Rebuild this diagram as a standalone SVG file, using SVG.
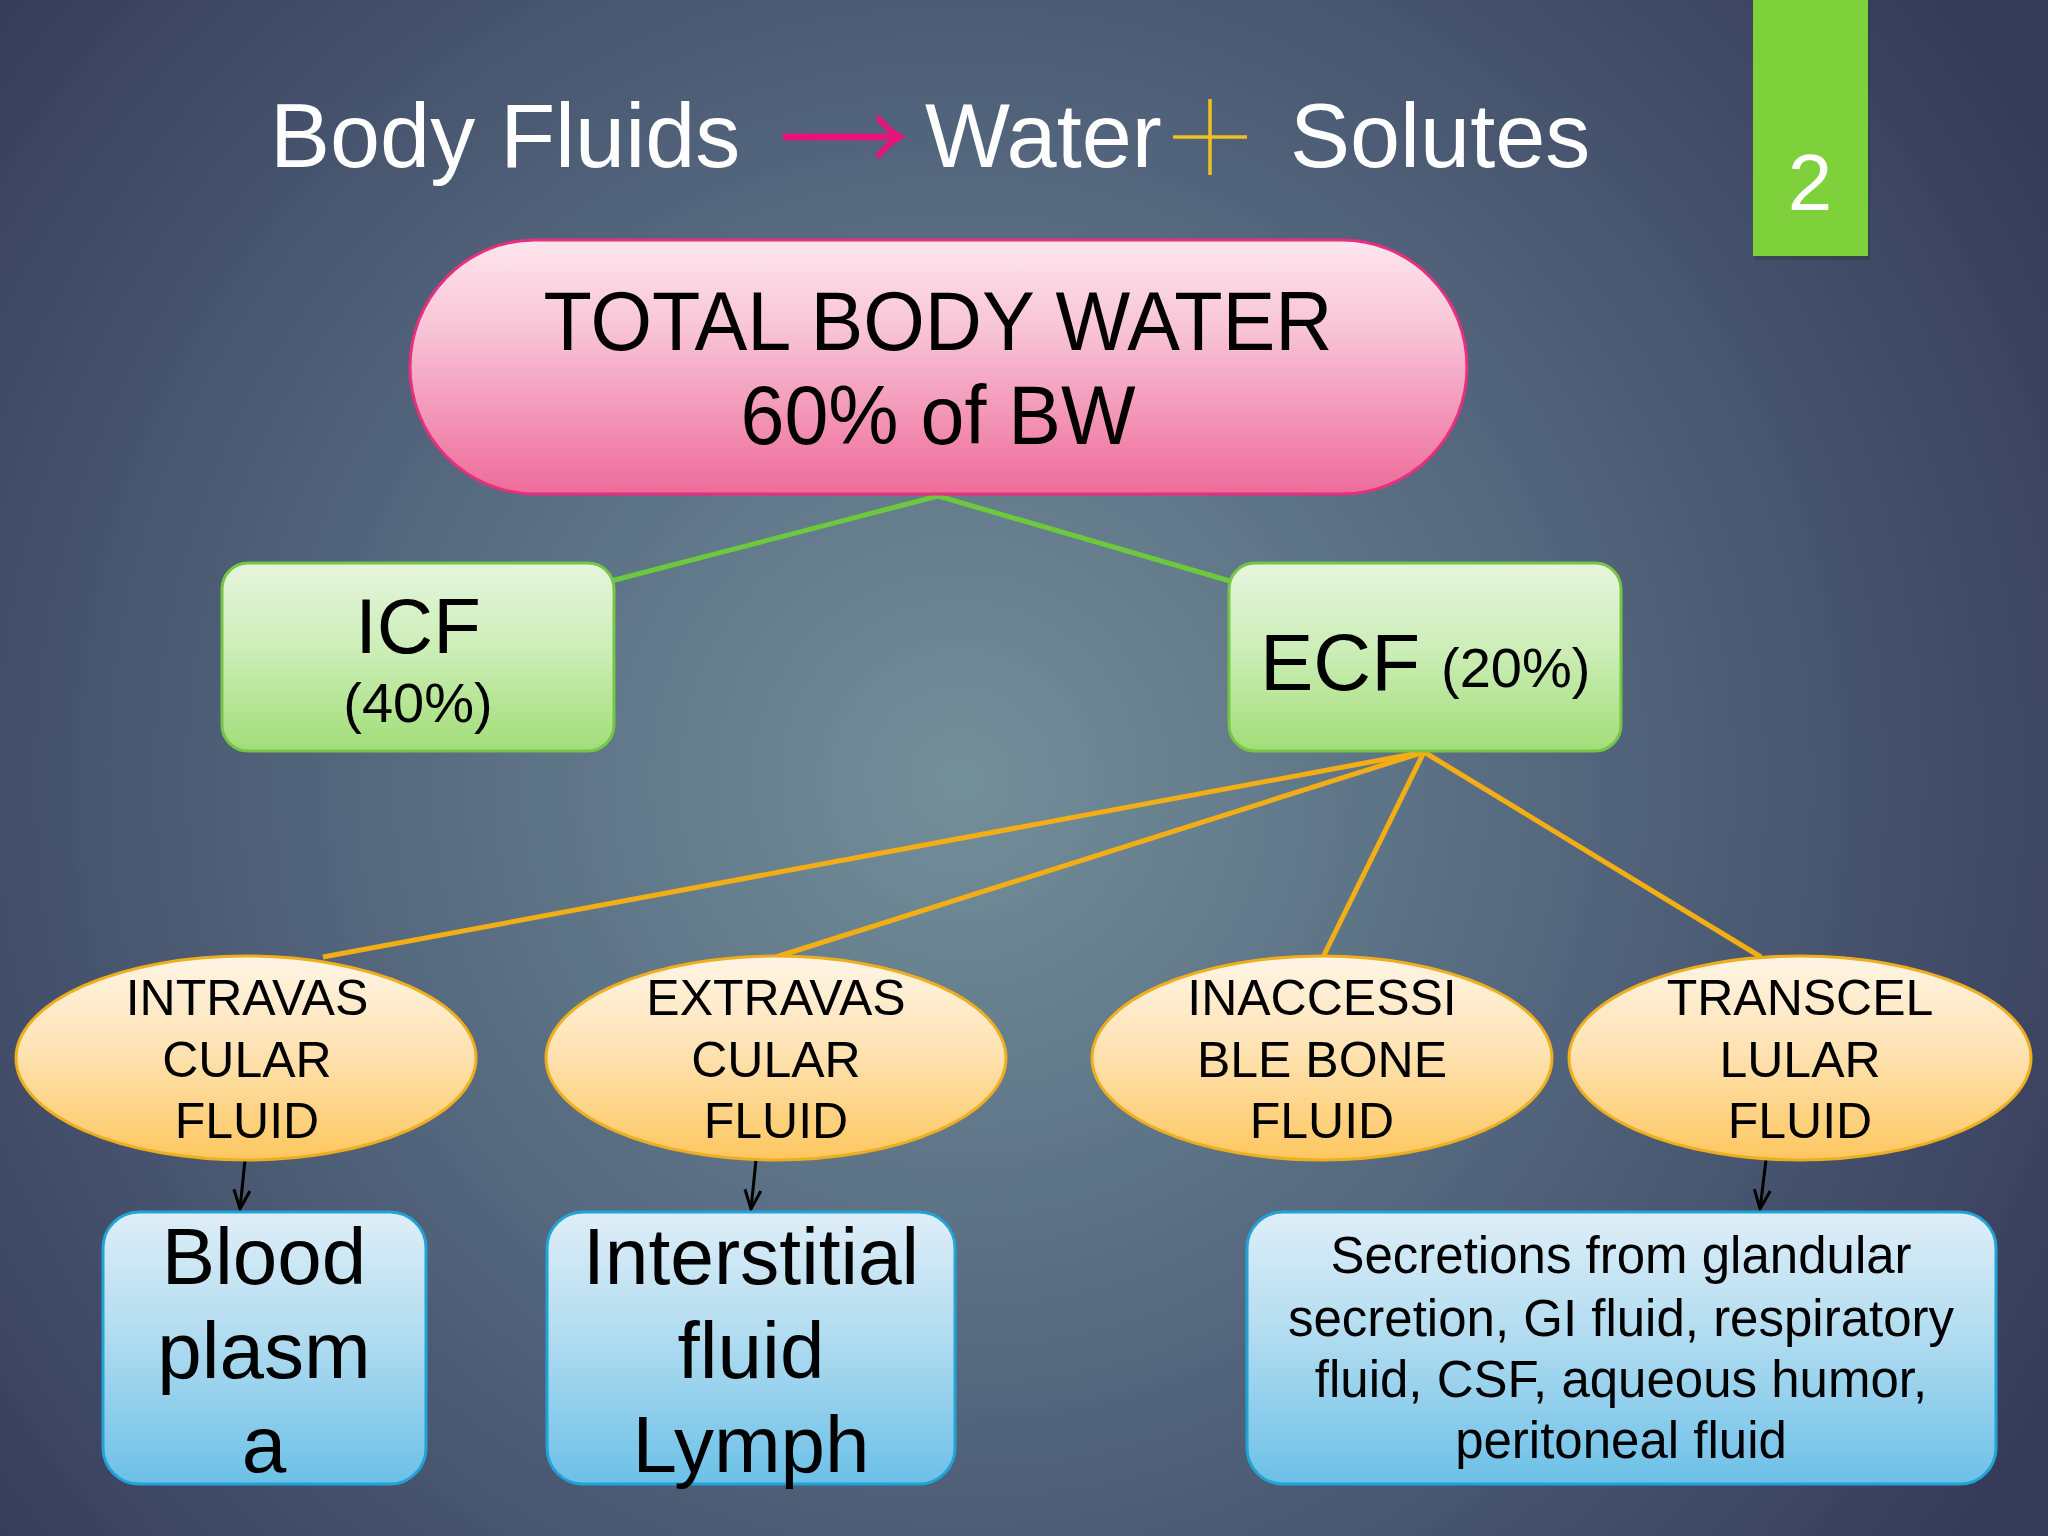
<svg xmlns="http://www.w3.org/2000/svg" width="2048" height="1536" viewBox="0 0 2048 1536">
<defs>
<radialGradient id="bg" cx="960" cy="780" r="1250" gradientUnits="userSpaceOnUse">
<stop offset="0" stop-color="#738f99"/>
<stop offset="0.45" stop-color="#566a80"/>
<stop offset="1" stop-color="#363b5a"/>
</radialGradient>
<linearGradient id="pink" x1="0" y1="0" x2="0" y2="1">
<stop offset="0" stop-color="#fde6ee"/>
<stop offset="0.35" stop-color="#f8c4d6"/>
<stop offset="1" stop-color="#ee6b9a"/>
</linearGradient>
<linearGradient id="green" x1="0" y1="0" x2="0" y2="1">
<stop offset="0" stop-color="#e6f5de"/>
<stop offset="0.45" stop-color="#cdeeb8"/>
<stop offset="1" stop-color="#a2dd78"/>
</linearGradient>
<linearGradient id="orange" x1="0" y1="0" x2="0" y2="1">
<stop offset="0" stop-color="#fff5e6"/>
<stop offset="0.45" stop-color="#fee3b4"/>
<stop offset="1" stop-color="#fdc760"/>
</linearGradient>
<linearGradient id="blue" x1="0" y1="0" x2="0" y2="1">
<stop offset="0" stop-color="#dfeef8"/>
<stop offset="0.45" stop-color="#b2dcf0"/>
<stop offset="1" stop-color="#6cc0e8"/>
</linearGradient>
<marker id="open" viewBox="0 0 24 24" refX="21" refY="12" markerWidth="24" markerHeight="24" markerUnits="userSpaceOnUse" orient="auto">
<path d="M2 4 L21 12 L2 20" fill="none" stroke="#000" stroke-width="3"/>
</marker>
<style>
text{font-family:"Liberation Sans",Arial,sans-serif;}
.title{fill:#fff;font-size:90px;}
.blk{fill:#000;text-anchor:middle;}
.pill{fill:url(#pink);stroke:#e62f7d;stroke-width:3;}
.gbox{fill:url(#green);stroke:#76c646;stroke-width:3;}
.ell{fill:url(#orange);stroke:#eeae1e;stroke-width:3;}
.bbox{fill:url(#blue);stroke:#22a3d6;stroke-width:3;}
.gline{stroke:#6cc83c;stroke-width:5;fill:none;}
.oline{stroke:#f2ae14;stroke-width:5;fill:none;}
.aline{stroke:#000;stroke-width:3;fill:none;marker-end:url(#open);}
.e50{font-size:50px;}
.b80{font-size:80px;}
</style>
</defs>
<rect x="0" y="0" width="2048" height="1536" fill="url(#bg)"/>

<g id="title">
<text class="title" x="270" y="167">Body Fluids</text>
<path d="M783 137 H896" stroke="#e3157a" stroke-width="7" fill="none"/>
<path d="M879 119 Q889 131 900 137 Q889 143 879 155" stroke="#e3157a" stroke-width="6" fill="none" stroke-linecap="round"/>
<text class="title" x="925" y="167">Water</text>
<path d="M1210 99 V175 M1173 137 H1247" stroke="#f0c020" stroke-width="3.5" fill="none"/>
<text class="title" x="1290" y="167">Solutes</text>
</g>

<g id="page-number">
<rect x="1755" y="4" width="115" height="256" fill="#2a3a30" opacity="0.35"/>
<rect x="1753" y="0" width="115" height="256" fill="#7fd13b"/>
<text x="1810" y="210" fill="#fff" font-size="80" text-anchor="middle">2</text>
</g>

<g id="connectors">
<path class="gline" d="M938 496 L611 581"/>
<path class="gline" d="M938 496 L1230 581"/>
<path class="oline" d="M1424 752 L323 957"/>
<path class="oline" d="M1424 752 L776 957"/>
<path class="oline" d="M1424 752 L1323 957"/>
<path class="oline" d="M1424 752 L1761 957"/>
<path class="aline" d="M245 1160 L240 1209"/>
<path class="aline" d="M756 1160 L751 1209"/>
<path class="aline" d="M1766 1160 L1760 1209"/>
</g>

<g id="total-body-water">
<rect class="pill" x="410" y="240" width="1057" height="254" rx="125" ry="127"/>
<text class="blk" x="938" y="350" font-size="84" textLength="789" lengthAdjust="spacingAndGlyphs">TOTAL BODY WATER</text>
<text class="blk" x="938" y="444" font-size="84" textLength="395" lengthAdjust="spacingAndGlyphs">60% of BW</text>
</g>

<g id="icf">
<rect class="gbox" x="222" y="563" width="392" height="188" rx="26"/>
<text class="blk" x="418" y="653" font-size="78">ICF</text>
<text class="blk" x="418" y="722" font-size="56">(40%)</text>
</g>

<g id="ecf">
<rect class="gbox" x="1229" y="563" width="392" height="188" rx="26"/>
<text x="1260" y="690" font-size="80" fill="#000">ECF</text>
<text x="1441" y="687" font-size="56" fill="#000">(20%)</text>
</g>

<g id="intravascular">
<ellipse class="ell" cx="246" cy="1058" rx="230" ry="102"/>
<text class="blk e50" x="247" y="1015">INTRAVAS</text>
<text class="blk e50" x="247" y="1077">CULAR</text>
<text class="blk e50" x="247" y="1138">FLUID</text>
</g>

<g id="extravascular">
<ellipse class="ell" cx="776" cy="1058" rx="230" ry="102"/>
<text class="blk e50" x="776" y="1015">EXTRAVAS</text>
<text class="blk e50" x="776" y="1077">CULAR</text>
<text class="blk e50" x="776" y="1138">FLUID</text>
</g>

<g id="inaccessible-bone">
<ellipse class="ell" cx="1322" cy="1058" rx="230" ry="102"/>
<text class="blk e50" x="1322" y="1015">INACCESSI</text>
<text class="blk e50" x="1322" y="1077">BLE BONE</text>
<text class="blk e50" x="1322" y="1138">FLUID</text>
</g>

<g id="transcellular">
<ellipse class="ell" cx="1800" cy="1058" rx="231" ry="102"/>
<text class="blk e50" x="1800" y="1015">TRANSCEL</text>
<text class="blk e50" x="1800" y="1077">LULAR</text>
<text class="blk e50" x="1800" y="1138">FLUID</text>
</g>

<g id="blood-plasma">
<rect class="bbox" x="103" y="1212" width="323" height="272" rx="36"/>
<text class="blk b80" x="264" y="1284">Blood</text>
<text class="blk b80" x="264" y="1378">plasm</text>
<text class="blk b80" x="264" y="1472">a</text>
</g>

<g id="interstitial">
<rect class="bbox" x="547" y="1212" width="408" height="272" rx="36"/>
<text class="blk b80" x="751" y="1284" textLength="336" lengthAdjust="spacingAndGlyphs">Interstitial</text>
<text class="blk b80" x="751" y="1378">fluid</text>
<text class="blk b80" x="751" y="1472">Lymph</text>
</g>

<g id="secretions">
<rect class="bbox" x="1247" y="1212" width="749" height="272" rx="36"/>
<text class="blk" x="1621" y="1273" font-size="51">Secretions from glandular</text>
<text class="blk" x="1621" y="1336" font-size="51">secretion, GI fluid, respiratory</text>
<text class="blk" x="1621" y="1397" font-size="51">fluid, CSF, aqueous humor,</text>
<text class="blk" x="1621" y="1458" font-size="51">peritoneal fluid</text>
</g>
</svg>
